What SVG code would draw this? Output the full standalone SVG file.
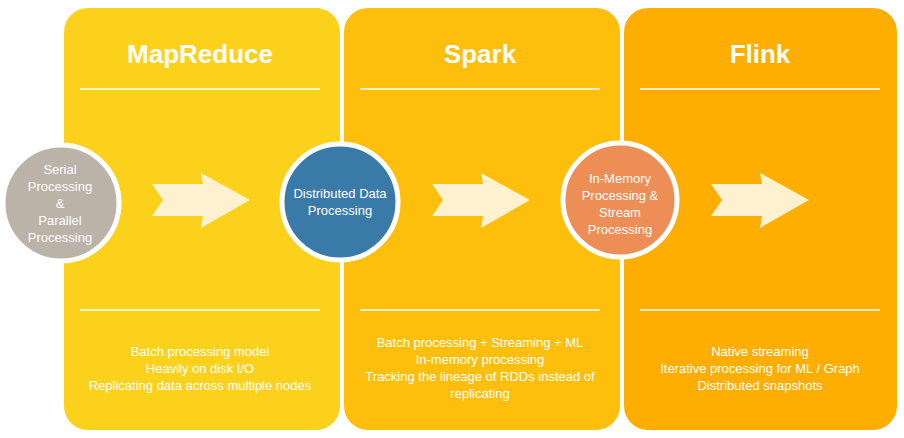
<svg xmlns="http://www.w3.org/2000/svg" width="904" height="438" viewBox="0 0 904 438">
<style>
.t{font-family:"Liberation Sans",Arial,sans-serif;fill:#fff;text-anchor:middle}
.h{font-size:26px;font-weight:bold}
.b{font-size:13px}
.c{font-size:13px}
.ln{stroke:#fff;stroke-width:1.5}
.circ{stroke:#fff;stroke-width:5}
.arr{fill:#fdf1d0}
</style>
<defs><polygon id="arr" class="arr" points="0,-16 51,-16 49,-27 98,0 49,28 51,16 0,16 11,0"/></defs>
<rect width="904" height="438" fill="#fff"/>
<g id="mapreduce">
<rect x="64" y="8" width="276" height="422" rx="24" fill="#fcd11c"/>
<text class="t h" x="200" y="63">MapReduce</text>
<line class="ln" x1="80" y1="89" x2="320" y2="89"/>
<line class="ln" x1="80" y1="310" x2="320" y2="310"/>
<text class="t b" x="200" y="356">Batch processing model</text>
<text class="t b" x="200" y="373">Heavily on disk I/O</text>
<text class="t b" x="200" y="390">Replicating data across multiple nodes</text>
</g>
<g id="spark">
<rect x="344" y="8" width="276" height="422" rx="24" fill="#fdbf0c"/>
<text class="t h" x="480" y="63">Spark</text>
<line class="ln" x1="360" y1="89" x2="600" y2="89"/>
<line class="ln" x1="360" y1="310" x2="600" y2="310"/>
<text class="t b" x="480" y="347">Batch processing + Streaming + ML</text>
<text class="t b" x="480" y="364">In-memory processing</text>
<text class="t b" x="480" y="381">Tracking the lineage of RDDs instead of</text>
<text class="t b" x="480" y="398">replicating</text>
</g>
<g id="flink">
<rect x="624" y="8" width="273" height="422" rx="24" fill="#fdae00"/>
<text class="t h" x="760" y="63">Flink</text>
<line class="ln" x1="640" y1="89" x2="880" y2="89"/>
<line class="ln" x1="640" y1="310" x2="880" y2="310"/>
<text class="t b" x="760" y="356">Native streaming</text>
<text class="t b" x="760" y="373">Iterative processing for ML / Graph</text>
<text class="t b" x="760" y="390">Distributed snapshots</text>
</g>
<g id="connectors">
<use href="#arr" x="152" y="200"/>
<use href="#arr" x="432" y="200"/>
<use href="#arr" x="711" y="200"/>
</g>
<g id="serial">
<circle class="circ" cx="61" cy="203" r="58" fill="#bbb2a8"/>
<text class="t c" x="60" y="174">Serial</text>
<text class="t c" x="60" y="191">Processing</text>
<text class="t c" x="60" y="208">&amp;</text>
<text class="t c" x="60" y="225">Parallel</text>
<text class="t c" x="60" y="242">Processing</text>
</g>
<g id="distributed">
<circle class="circ" cx="340" cy="202" r="58" fill="#3a7aa8"/>
<text class="t c" x="340" y="198">Distributed Data</text>
<text class="t c" x="340" y="215">Processing</text>
</g>
<g id="inmemory">
<circle class="circ" cx="620" cy="200" r="57" fill="#ec8e55"/>
<text class="t c" x="620" y="183">In-Memory</text>
<text class="t c" x="620" y="200">Processing &amp;</text>
<text class="t c" x="620" y="217">Stream</text>
<text class="t c" x="620" y="234">Processing</text>
</g>
</svg>
